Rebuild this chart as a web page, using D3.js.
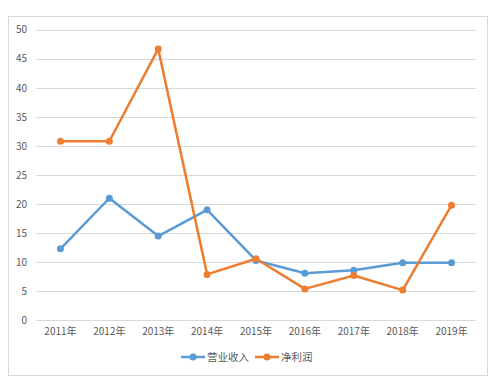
<!DOCTYPE html>
<html>
<head>
<meta charset="utf-8">
<script src="https://cdn.jsdelivr.net/npm/d3@7"></script>
<style>
  body { margin: 0; background: #fff; }
  svg text { font-family: "Noto Sans CJK SC", "Microsoft YaHei", sans-serif; fill: #595959; }
</style>
</head>
<body>
<svg id="chart" width="493" height="377"></svg>
<script>
const years = ["2011年", "2012年", "2013年", "2014年", "2015年", "2016年", "2017年", "2018年", "2019年"];
const revenue = [12.3, 21.0, 14.5, 19.0, 10.3, 8.1, 8.6, 9.9, 9.9];
const profit = [30.8, 30.8, 46.7, 7.9, 10.6, 5.4, 7.7, 5.2, 19.8];
const seriesNames = ["营业收入", "净利润"];
const yTicks = [0, 5, 10, 15, 20, 25, 30, 35, 40, 45, 50];

const colors = ["#5B9BD5", "#ED7D31"];
const svg = d3.select("#chart");

// chart area border
svg.append("rect")
   .attr("x", 8.5).attr("y", 16.5)
   .attr("width", 479).attr("height", 359)
   .attr("fill", "#fff")
   .attr("stroke", "#D9D9D9");

const margin = { left: 36, top: 29.7, right: 17, bottom: 56.7 };
const width = 493, height = 377;

const xScale = d3.scaleBand()
                 .domain(years)
                 .range([margin.left, width - margin.right]);

const yScale = d3.scaleLinear()
                 .domain([0, 50])
                 .range([height - margin.bottom, margin.top]);

// gridlines
svg.append("g")
   .selectAll("line")
   .data(yTicks)
   .enter()
   .append("line")
     .attr("x1", margin.left)
     .attr("x2", width - margin.right)
     .attr("y1", d => Math.round(yScale(d)) + 0.5)
     .attr("y2", d => Math.round(yScale(d)) + 0.5)
     .attr("stroke", "#D9D9D9")
     .attr("stroke-width", 1);

// y axis labels
const yAxis = d3.axisLeft(yScale).tickValues(yTicks).tickSize(0).tickPadding(0);
svg.append("g")
   .attr("transform", "translate(27, 0)")
   .call(yAxis)
   .call(g => g.select(".domain").remove())
   .call(g => g.selectAll("text").attr("font-size", 10).attr("fill", "#595959").style("font-family", "\"Noto Sans CJK SC\", sans-serif"));

// x axis labels
const xAxis = d3.axisBottom(xScale).tickSize(0).tickPadding(0);
svg.append("g")
   .attr("transform", "translate(0, 328)")
   .call(xAxis)
   .call(g => g.select(".domain").remove())
   .call(g => g.selectAll("text").attr("font-size", 10).attr("fill", "#595959").style("font-family", "\"Noto Sans CJK SC\", sans-serif"));

const cx = d => xScale(d) + xScale.bandwidth() / 2;
const line = d3.line()
               .x((d, i) => cx(years[i]))
               .y(d => yScale(d));

[revenue, profit].forEach((data, k) => {
    svg.append("path")
       .attr("d", line(data))
       .attr("stroke", colors[k])
       .attr("stroke-width", 2.5)
       .attr("stroke-linejoin", "round")
       .attr("fill", "none");

    svg.append("g")
       .selectAll("circle")
       .data(data)
       .enter()
       .append("circle")
         .attr("cx", (d, i) => cx(years[i]))
         .attr("cy", d => yScale(d))
         .attr("r", 3.5)
         .attr("fill", colors[k]);
});

// legend
const legendX = [181, 255];
seriesNames.forEach((name, k) => {
    const g = svg.append("g").attr("transform", `translate(${legendX[k]}, 357)`);
    g.append("line")
     .attr("x1", 0).attr("x2", 24)
     .attr("stroke", colors[k])
     .attr("stroke-width", 2.5);
    g.append("circle")
     .attr("cx", 12).attr("r", 3.5)
     .attr("fill", colors[k]);
    g.append("text")
     .attr("x", 26)
     .attr("dy", "0.35em")
     .attr("font-size", 10.5)
     .text(name);
});
</script>
</body>
</html>
